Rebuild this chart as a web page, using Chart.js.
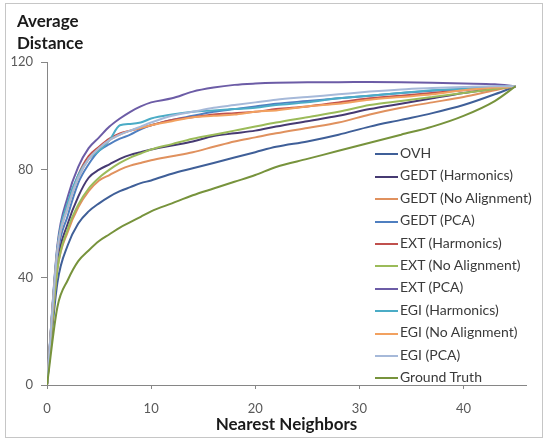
<!DOCTYPE html>
<html>
<head>
<meta charset="utf-8">
<script src="https://cdn.jsdelivr.net/npm/chart.js@4.4.0/dist/chart.umd.min.js"></script>
<style>
    body { margin: 0; background: #fff; overflow: hidden; }
    #wrap { position: relative; width: 548px; height: 443px; }
    #legend { position: absolute; left: 375px; top: 142px; font-family: Lato, sans-serif; font-size: 14px; color: #3a3a3a; }
    #legend .row { height: 22.4px; line-height: 22.4px; white-space: nowrap; }
    #legend .swatch { display: inline-block; width: 23px; height: 2px; vertical-align: middle; margin-right: 2px; }
</style>
</head>
<body>
<div id="wrap">
    <canvas id="chart" width="548" height="443"></canvas>
    <div id="legend"></div>
</div>
<script>
const xs = [0, 1, 2, 3, 4, 5, 6, 7, 8, 9, 10, 12, 14, 16, 18, 20, 22, 25, 28, 31, 34, 37, 40, 43, 45];

const ovh      = [0, 38, 52, 60, 64.5, 67.5, 70, 72, 73.5, 75, 76, 78.5, 80.5, 82.5, 84.5, 86.5, 88.5, 90.5, 93, 96, 98.5, 101, 104, 108, 111];
const gedtHarm = [0, 45, 60, 70, 77, 80, 82, 84, 85.5, 86.5, 87.5, 89, 90.5, 92.5, 93.5, 94.5, 96, 98, 100, 102.5, 104.5, 106.5, 108.5, 110, 111];
const gedtNoAl = [0, 43, 57, 66, 72, 76, 78, 80, 81.5, 82.5, 83.5, 85, 86.5, 88.5, 90.5, 92, 93.5, 95.5, 97.5, 100.5, 103, 105, 107, 109.5, 111];
const gedtPca  = [0, 48, 63, 75, 82, 87, 89.5, 91.5, 93, 95, 96.5, 98.5, 100, 101.5, 102.5, 103.5, 104.5, 105.5, 106.5, 107.5, 108.5, 109.3, 110, 110.7, 111];
const extHarm  = [0, 50, 67, 78, 85, 88.5, 91.5, 93.5, 94.5, 95.5, 96.5, 98.5, 99.5, 100.5, 101, 101.5, 102.5, 103.5, 105, 106.5, 107.5, 108.5, 109.5, 110.5, 111];
const extNoAl  = [0, 43, 58, 67, 73, 77, 80, 82.5, 84.5, 86, 87.5, 89.5, 91.5, 93, 94.5, 96, 97.5, 99.5, 101.5, 104, 105.5, 107, 108.5, 110, 111];
const extPca   = [0, 52, 70, 81, 88, 92, 96, 99, 101.5, 103.5, 105, 106.5, 109, 110.5, 111.5, 112, 112.3, 112.5, 112.5, 112.6, 112.5, 112.3, 112, 111.7, 111];
const egiHarm  = [0, 51, 68, 78, 84, 87, 91, 96.5, 97, 97.5, 99, 100.5, 101.5, 102, 102.5, 103, 104, 105, 106.5, 107.5, 108.5, 109.5, 110, 110.8, 111];
const egiNoAl  = [0, 50, 66, 77, 84, 88, 91, 93, 94.5, 95.5, 96.5, 98, 99.5, 100, 100.5, 101.5, 102, 103.5, 104.5, 106, 107, 108, 109.5, 110.5, 111];
const egiPca   = [0, 50, 66, 77, 84, 88, 91, 93, 94.5, 96, 97.5, 100, 101.5, 103, 104, 105, 106, 107, 108, 109, 109.8, 110.3, 110.7, 111, 111];
const truth    = [0, 29, 39, 46, 50, 53.5, 56, 58.5, 60.5, 62.5, 64.5, 67.5, 70.5, 73, 75.5, 78, 81, 84, 87, 90, 93, 96, 100, 105.5, 111];

const seriesNames = ["OVH", "GEDT (Harmonics)", "GEDT (No Alignment)", "GEDT (PCA)", "EXT (Harmonics)",
    "EXT (No Alignment)", "EXT (PCA)", "EGI (Harmonics)", "EGI (No Alignment)", "EGI (PCA)", "Ground Truth"];
const seriesValues = [ovh, gedtHarm, gedtNoAl, gedtPca, extHarm, extNoAl, extPca, egiHarm, egiNoAl, egiPca, truth];
const seriesColors = ["#3f5f98", "#463a72", "#e0915e", "#4f7fc0", "#c0504d",
    "#9bbb59", "#6c5ca6", "#4bacc6", "#f2a160", "#a6b9d9", "#77933c"];

const xTicks = [0, 10, 20, 30, 40];
const yTicks = [0, 40, 80, 120];
const yTitleLines = ["Average", "Distance"];

const datasets = seriesNames.map((name, i) => ({
    label: name,
    data: xs.map((x, j) => ({ x: x, y: seriesValues[i][j] })),
    borderColor: seriesColors[i],
    borderWidth: 2,
    pointRadius: 0,
    fill: false,
    cubicInterpolationMode: 'monotone',
    // excel draws the last series on top
    order: seriesNames.length - 1 - i
}));

// White background and thin frame round the whole chart
const framePlugin = {
    id: 'frame',
    beforeDraw(chart) {
        const ctx = chart.ctx;
        ctx.save();
        ctx.fillStyle = '#fff';
        ctx.fillRect(0, 0, chart.width, chart.height);
        ctx.strokeStyle = '#c6c6c6';
        ctx.lineWidth = 1;
        ctx.strokeRect(5.5, 3.5, 537, 434);
        ctx.restore();
    }
};

// Excel puts the value axis title flat, above the axis
const axisTitlePlugin = {
    id: 'axisTitle',
    afterDraw(chart) {
        const ctx = chart.ctx;
        ctx.save();
        ctx.font = 'bold 17px Lato';
        ctx.fillStyle = '#1a1a1a';
        ctx.textAlign = 'left';
        ctx.textBaseline = 'alphabetic';
        yTitleLines.forEach((t, i) => ctx.fillText(t, 17, 27 + i * 22));
        ctx.restore();
    }
};

const axisColor = '#868686';
const tickFont = { family: 'Lato', size: 13 };
const titleFont = { family: 'Lato', size: 17, weight: 'bold' };

new Chart(document.getElementById('chart'), {
    type: 'line',
    data: { datasets: datasets },
    plugins: [framePlugin, axisTitlePlugin],
    options: {
        responsive: false,
        animation: false,
        layout: { padding: { left: 6, right: 22, top: 62, bottom: 6 } },
        plugins: {
            legend: { display: false },
            tooltip: { enabled: false }
        },
        scales: {
            x: {
                type: 'linear',
                min: 0,
                max: 46,
                afterBuildTicks: (s) => { s.ticks = xTicks.map(v => ({ value: v })); },
                afterFit: (s) => { s.height = 52; },
                ticks: { color: '#595959', font: tickFont, padding: 12, includeBounds: false },
                grid: { display: true, drawOnChartArea: false, tickLength: 4, color: axisColor },
                border: { color: axisColor },
                title: { display: true, text: 'Nearest Neighbors', color: '#1a1a1a', font: titleFont, padding: { top: 0, bottom: 2 } }
            },
            y: {
                min: 0,
                max: 120,
                afterBuildTicks: (s) => { s.ticks = yTicks.map(v => ({ value: v })); },
                afterFit: (s) => { s.width = 41; },
                ticks: { color: '#595959', font: tickFont, padding: 8 },
                grid: { display: true, drawOnChartArea: false, tickLength: 6, color: axisColor },
                border: { color: axisColor }
            }
        }
    }
});

// Legend sits inside the plot on the right, built from the same series lists
const legend = document.getElementById('legend');
seriesNames.forEach((name, i) => {
    const row = document.createElement('div');
    row.className = 'row';
    const swatch = document.createElement('span');
    swatch.className = 'swatch';
    swatch.style.background = seriesColors[i];
    row.appendChild(swatch);
    row.appendChild(document.createTextNode(name));
    legend.appendChild(row);
});
</script>
</body>
</html>
